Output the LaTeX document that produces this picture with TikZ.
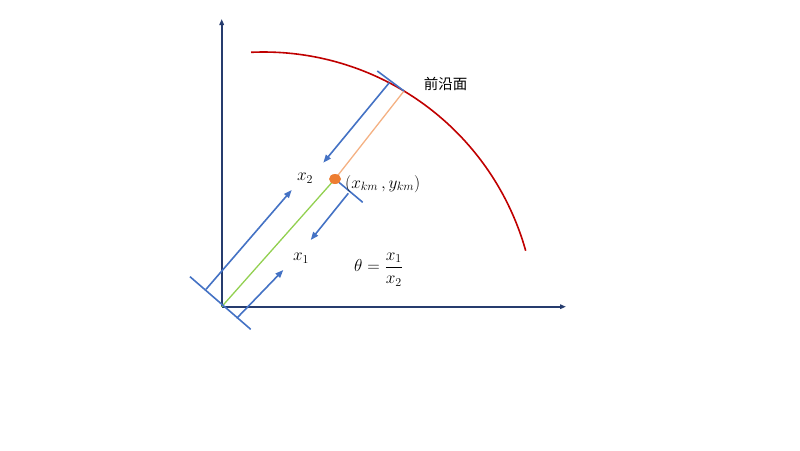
\documentclass[tikz,border=0pt]{standalone}
\usepackage{fontspec}
\newfontfamily\cjk{Noto Sans CJK SC}
\usetikzlibrary{arrows.meta}
\definecolor{axisc}{RGB}{38,60,110}
\definecolor{bluec}{RGB}{68,114,196}
\definecolor{redc}{RGB}{192,0,0}
\definecolor{greenc}{RGB}{146,208,80}
\definecolor{peachc}{RGB}{244,177,131}
\definecolor{orangec}{RGB}{237,125,49}
\tikzset{
  axisline/.style={draw=axisc, line width=1.6pt, -{Triangle[length=6pt,width=4.5pt]}},
  bluearrow/.style={draw=bluec, line width=1.6pt, -{Triangle[length=8pt,width=6pt]}},
  bluetick/.style={draw=bluec, line width=1.6pt},
  lbl/.style={inner sep=0pt, font=\fontsize{17}{19}\selectfont},
}
\begin{document}
\begin{tikzpicture}[x=1pt,y=-1pt]
\useasboundingbox (0,0) rectangle (800,450);
% key points
\coordinate (O) at (221.7,306.7);
\coordinate (ytop) at (221.7,19);
\coordinate (xend) at (566,306.7);
\coordinate (D) at (335,179);
\coordinate (F) at (404,91);
% axes
\draw[axisline] (O) -- (ytop);
\draw[axisline] (O) -- (xend);
% front arc
\draw[redc, line width=1.6pt] plot[domain=-92.65:-15.66, samples=80] ({263.6+272.2*cos(\x)},{324.2+272.2*sin(\x)});
% ray
\draw[greenc, line width=1.3pt] (O) -- (D);
\draw[peachc, line width=1.3pt] (D) -- (F);
% perpendicular ticks
\coordinate (t1a) at (190,276.7);
\coordinate (t1b) at (250.7,329.3);
\draw[bluetick] (t1a) -- (t1b);
\coordinate (t2a) at (377.3,71);
\draw[bluetick] (t2a) -- (F);
\coordinate (t3b) at (362.7,202.3);
\draw[bluetick] (D) -- (t3b);
% arrows
\coordinate (a1s) at (206,289.3);
\coordinate (a1e) at (291.7,190);
\draw[bluearrow] (a1s) -- (a1e);
\coordinate (a2s) at (236.7,318.3);
\coordinate (a2e) at (283.3,270);
\draw[bluearrow] (a2s) -- (a2e);
\coordinate (a3s) at (389.3,82.7);
\coordinate (a3e) at (323.3,162.7);
\draw[bluearrow] (a3s) -- (a3e);
\coordinate (a4s) at (348.3,193.3);
\coordinate (a4e) at (310.7,240);
\draw[bluearrow] (a4s) -- (a4e);
% dot
\fill[orangec] (D) ellipse[x radius=6pt, y radius=5pt];
% labels
\node[lbl] (lx2) at (305,178) {$x_2$};
\node[lbl] (lx1) at (301,258) {$x_1$};
\node[lbl, anchor=west] (lpt) at (345,184) {$(x_{km}\,,y_{km})$};
\node[lbl, anchor=west] (lth) at (354,269.5) {$\theta=\displaystyle\frac{x_1}{x_2}$};
\node[lbl] (lfr) at (445.5,83.5) {\cjk\fontsize{14.5}{16}\selectfont 前沿面};
\end{tikzpicture}
\end{document}
